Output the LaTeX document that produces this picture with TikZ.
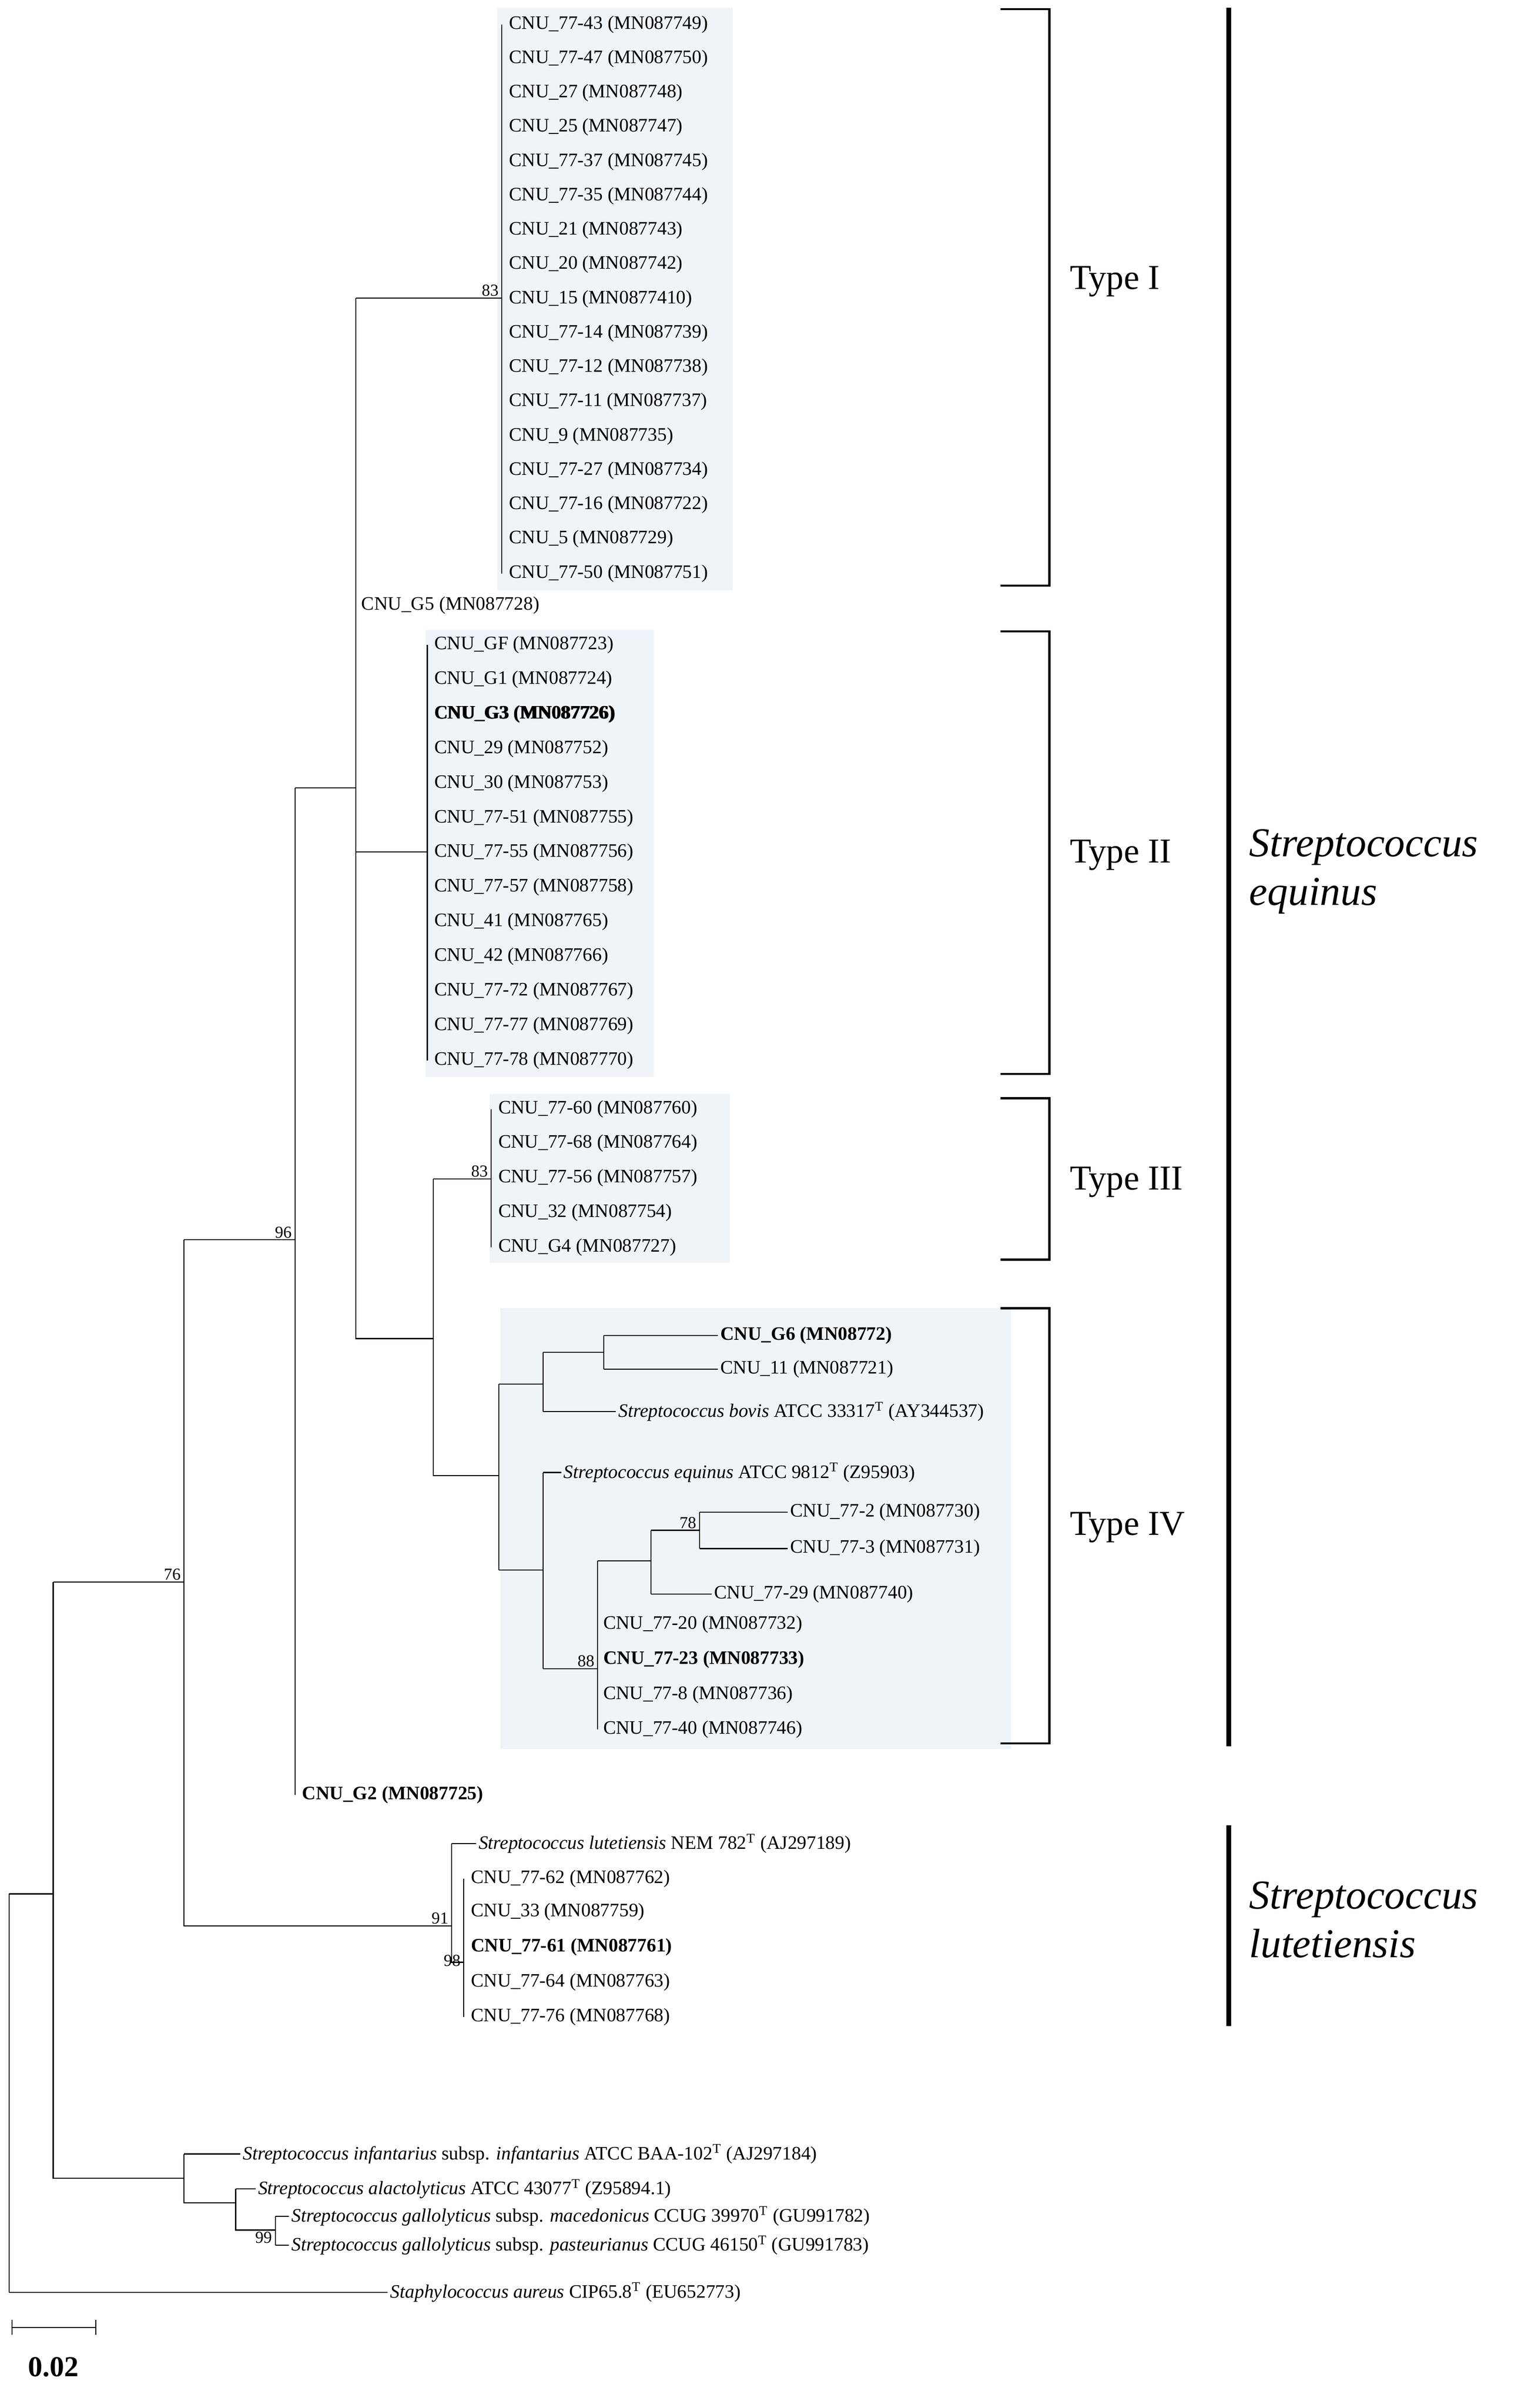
\documentclass[tikz,border=0pt]{standalone}
\usepackage{fontspec}
\setmainfont{Liberation Serif}
\begin{document}
\begin{tikzpicture}[x=1pt,y=-1pt,
 lf/.style={anchor=west,inner sep=1.5pt,font=\fontsize{12.5}{14}\selectfont},
 bs/.style={anchor=south east,inner sep=1pt,font=\fontsize{11}{13}\selectfont},
 ed/.style={line width=0.7pt},
 br/.style={line width=1.4pt},
 bar/.style={line width=3pt},
 tl/.style={anchor=west,font=\fontsize{23}{26}\selectfont},
 sp/.style={anchor=west,font=\fontsize{27}{32}\selectfont\itshape,align=left},
 box/.style={fill=boxc,draw=none}]
\definecolor{boxc}{RGB}{239,244,249}
\useasboundingbox (0,0) rectangle (1000,1583);
% shaded boxes
\fill[boxc] (327,5) rectangle (482,388);
\fill[boxc] (280,414) rectangle (430,708);
\fill[boxc] (322,719) rectangle (480,830);
\fill[boxc] (329,860) rectangle (665,1150);
% Type I
\foreach \t [count=\i from 0] in {77-43 (MN087749),77-47 (MN087750),27 (MN087748),25 (MN087747),77-37 (MN087745),77-35 (MN087744),21 (MN087743),20 (MN087742),15 (MN0877410),77-14 (MN087739),77-12 (MN087738),77-11 (MN087737),9 (MN087735),77-27 (MN087734),77-16 (MN087722),5 (MN087729),77-50 (MN087751)}
 {\node[lf] (a\i) at (333,16+\i*22.56) {CNU\_\t};}
\draw[ed] (330,16) -- (330,377);
% Type II
\foreach \t [count=\i from 0] in {GF (MN087723),G1 (MN087724),\textbf{G3 (MN087726)},29 (MN087752),30 (MN087753),77-51 (MN087755),77-55 (MN087756),77-57 (MN087758),41 (MN087765),42 (MN087766),77-72 (MN087767),77-77 (MN087769),77-78 (MN087770)}
 {\node[lf] (b\i) at (284,424+\i*22.75) {CNU\_\t};}
\node[lf] at (284,469.5) {\textbf{CNU\_G3 (MN087726)}};
\draw[ed] (281,424) -- (281,697);
% Type III
\foreach \t [count=\i from 0] in {77-60 (MN087760),77-68 (MN087764),77-56 (MN087757),32 (MN087754),G4 (MN087727)}
 {\node[lf] (c\i) at (326,729+\i*22.75) {CNU\_\t};}
\draw[ed] (323,729) -- (323,820);
% upper clade
\node[lf] (g5) at (236,398) {CNU\_G5 (MN087728)};
\draw[ed] (234,196) -- (330,196);
\node[bs] at (329,196) {83};
\draw[ed] (234,560) -- (281,560);
\draw[ed] (234,196) -- (234,880) -- (285,880);
\draw[ed] (285,775) -- (323,775);
\node[bs] at (322,775) {83};
\draw[ed] (285,775) -- (285,970) -- (328,970);
% Type IV
\draw[ed] (328,910) -- (328,1032);
\draw[ed] (328,910) -- (357,910);
\draw[ed] (357,889) -- (357,928);
\draw[ed] (357,889) -- (397,889);
\draw[ed] (397,878) -- (397,900);
\node[lf] (g6) at (472,878) {\textbf{CNU\_G6 (MN08772)}};
\node[lf] (c11) at (472,900) {CNU\_11 (MN087721)};
\draw[ed] (397,878) -- (g6.west);
\draw[ed] (397,900) -- (c11.west);
\node[lf] (sbov) at (405,928) {\textit{Streptococcus bovis} ATCC 33317\textsuperscript{T} (AY344537)};
\draw[ed] (357,928) -- (sbov.west);
\draw[ed] (328,1032) -- (357,1032);
\draw[ed] (357,968) -- (357,1097);
\node[lf] (sequ) at (369,968) {\textit{Streptococcus equinus} ATCC 9812\textsuperscript{T} (Z95903)};
\draw[ed] (357,968) -- (sequ.west);
\draw[ed] (357,1097) -- (393,1097);
\node[bs] at (392,1097) {88};
\draw[ed] (393,1026) -- (393,1137);
\node[lf] at (395,1068) {CNU\_77-20 (MN087732)};
\node[lf] at (395,1091) {\textbf{CNU\_77-23 (MN087733)}};
\node[lf] at (395,1114) {CNU\_77-8 (MN087736)};
\node[lf] at (395,1137) {CNU\_77-40 (MN087746)};
\draw[ed] (393,1026) -- (428,1026);
\draw[ed] (428,1006) -- (428,1048);
\draw[ed] (428,1006) -- (460,1006);
\node[bs] at (459,1006) {78};
\draw[ed] (460,994) -- (460,1018);
\node[lf] (t2) at (518,994) {CNU\_77-2 (MN087730)};
\node[lf] (t3) at (518,1018) {CNU\_77-3 (MN087731)};
\node[lf] (t29) at (468,1048) {CNU\_77-29 (MN087740)};
\draw[ed] (460,994) -- (t2.west);
\draw[ed] (460,1018) -- (t3.west);
\draw[ed] (428,1048) -- (t29.west);
% big clade
\draw[ed] (194,518) -- (234,518);
\draw[ed] (194,518) -- (194,1180);
\node[lf] (g2) at (197,1180) {\textbf{CNU\_G2 (MN087725)}};
\draw[ed] (121,815) -- (194,815);
\node[bs] at (193,815) {96};
\draw[ed] (121,815) -- (121,1266) -- (297,1266);
\node[bs] at (296,1266) {91};
\draw[ed] (297,1212) -- (297,1290) -- (305,1290);
\node[lf] (slut) at (313,1212) {\textit{Streptococcus lutetiensis} NEM 782\textsuperscript{T} (AJ297189)};
\draw[ed] (297,1212) -- (slut.west);
\node[anchor=north east,inner sep=1pt,font=\fontsize{11}{13}\selectfont] at (304,1284) {98};
\draw[ed] (305,1235) -- (305,1326);
\node[lf] at (308,1235) {CNU\_77-62 (MN087762)};
\node[lf] at (308,1257) {CNU\_33 (MN087759)};
\node[lf] at (308,1280) {\textbf{CNU\_77-61 (MN087761)}};
\node[lf] at (308,1303) {CNU\_77-64 (MN087763)};
\node[lf] at (308,1326) {CNU\_77-76 (MN087768)};
\draw[ed] (35,1040) -- (121,1040);
\node[bs] at (120,1040) {76};
\draw[ed] (35,1040) -- (35,1432) -- (121,1432);
\draw[ed] (121,1416) -- (121,1448) -- (155,1448);
\node[lf] (inf) at (158,1416) {\textit{Streptococcus infantarius} subsp. \textit{infantarius} ATCC BAA-102\textsuperscript{T} (AJ297184)};
\draw[ed] (121,1416) -- (inf.west);
\draw[ed] (155,1439) -- (155,1466) -- (181,1466);
\node[lf] (ala) at (168,1439) {\textit{Streptococcus alactolyticus} ATCC 43077\textsuperscript{T} (Z95894.1)};
\draw[ed] (155,1439) -- (ala.west);
\node[anchor=north east,inner sep=1pt,font=\fontsize{11}{13}\selectfont] at (180,1466) {99};
\draw[ed] (181,1457) -- (181,1476);
\node[lf] (mac) at (190,1457) {\textit{Streptococcus gallolyticus} subsp. \textit{macedonicus} CCUG 39970\textsuperscript{T} (GU991782)};
\node[lf] (pas) at (190,1476) {\textit{Streptococcus gallolyticus} subsp. \textit{pasteurianus} CCUG 46150\textsuperscript{T} (GU991783)};
\draw[ed] (181,1457) -- (mac.west);
\draw[ed] (181,1476) -- (pas.west);
% root
\draw[ed] (6,1245) -- (35,1245);
\draw[ed] (6,1245) -- (6,1507);
\node[lf] (sau) at (255,1507) {\textit{Staphylococcus aureus} CIP65.8\textsuperscript{T} (EU652773)};
\draw[ed] (6,1507) -- (sau.west);
% scale
\draw[ed] (8,1525) -- (8,1535) (8,1530) -- (63,1530) (63,1525) -- (63,1535);
\node[font=\fontsize{19}{22}\selectfont\bfseries] (sc) at (35,1556) {0.02};
% brackets
\draw[br] (658,6) -- (690,6) -- (690,385) -- (658,385);
\draw[br] (658,415) -- (690,415) -- (690,706) -- (658,706);
\draw[br] (658,722) -- (690,722) -- (690,828) -- (658,828);
\draw[br] (658,860) -- (690,860) -- (690,1146) -- (658,1146);
\node[tl] at (700,185) {Type I};
\node[tl] at (700,562) {Type II};
\node[tl] at (700,777) {Type III};
\node[tl] at (700,1004) {Type IV};
\draw[bar] (808,5) -- (808,1148);
\draw[bar] (808,1200) -- (808,1332);
\node[sp] at (818,573) {Streptococcus\\equinus};
\node[sp] at (818,1262) {Streptococcus\\lutetiensis};
\end{tikzpicture}
\end{document}
